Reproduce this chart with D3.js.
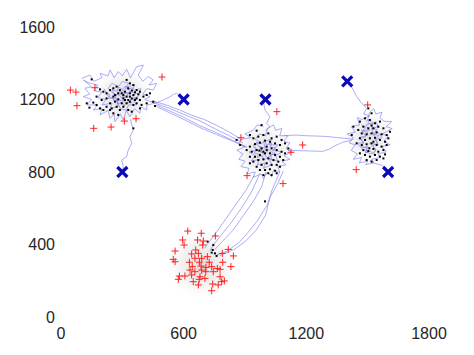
<!DOCTYPE html>
<html><head><meta charset="utf-8">
<script src="https://cdn.jsdelivr.net/npm/d3@7"></script>
<style>body{margin:0;background:#fff}svg{display:block}</style>
</head><body>
<script>
const xTicks=[0,600,1200,1800];
const yTicks=[0,400,800,1200,1600];
const starts=[[300,800],[600,1200],[1000,1200],[1400,1300],[1600,800]];
const haloCenters=[[300,1210,34],[990,915,32],[1505,995,28],[690,290,38]];
const redPlus=[[46,1252],[73,1241],[166,1265],[78,1166],[160,1041],[245,1048],[310,1081],[367,1094],[494,1324],
[1056,1133],[880,989],[1182,949],[1125,909],[910,780],[1086,736],[1500,1170],[1444,813],
[620,474],[686,462],[595,425],[668,425],[696,419],[755,447],[602,397],[558,364],[693,397],[659,370],[549,318],[558,305],[639,348],[672,351],[818,373],[843,337],[789,351],[655,324],[688,324],[716,333],[628,302],[677,302],[725,302],[791,302],[831,278],[642,278],[685,281],[709,274],[737,278],[765,268],[631,259],[655,250],[688,259],[708,250],[745,250],[778,263],[579,226],[606,226],[639,232],[680,222],[704,213],[778,222],[574,208],[647,195],[676,208],[786,195],[742,182],[769,177],[672,177],[737,145],[799,199]];
const blackDots=[[150,1311],[126,1179],[139,1155],[191,1256],[207,1243],[223,1234],[240,1252],[256,1262],[272,1271],[288,1252],[297,1234],[313,1243],[329,1262],[337,1234],[346,1249],[354,1225],[362,1240],[370,1252],[378,1229],[386,1243],[403,1216],[419,1225],[435,1234],[460,1164],[451,1188],[321,1216],[305,1206],[280,1201],[264,1188],[240,1179],[223,1160],[207,1142],[191,1151],[174,1170],[158,1183],[248,1151],[272,1160],[288,1142],[305,1160],[321,1179],[337,1188],[354,1170],[370,1179],[386,1197],[394,1170],[256,1124],[280,1115],[329,1142],[346,1133],[297,1179],[313,1197],[329,1197],[346,1206],[370,1206],[223,1206],[199,1197],[174,1216],[264,1225],[280,1234],[354,1041],[321,1308],[337,1289],[354,1280],[240,1142],[386,1151],[419,1179],[256,1216],[305,1225],[337,1216],[362,1197],
[981,1059],[957,1028],[924,1004],[941,986],[965,995],[990,1004],[1014,1013],[1030,986],[1055,995],[1079,977],[1096,958],[1071,949],[1047,958],[1022,967],[998,973],[973,962],[949,954],[924,940],[908,921],[933,912],[957,921],[981,930],[1006,940],[1030,930],[1055,921],[1079,912],[1096,903],[1071,884],[1047,894],[1022,903],[998,903],[973,894],[949,884],[924,884],[941,857],[965,866],[990,870],[1014,875],[1039,866],[1063,857],[1087,866],[1055,839],[1030,839],[1006,848],[981,839],[957,829],[973,811],[998,811],[1022,815],[1047,807],[1014,793],[990,783],[1030,783],[1055,793],[876,949],[859,977],[1112,930],[924,848],[1071,829],[1006,921],[990,912],[970,918],[998,638],
[717,416],[745,397],[742,370],[737,355],[753,351],[761,337],
[1503,1151],[1519,1124],[1487,1096],[1462,1078],[1511,1087],[1536,1069],[1560,1078],[1479,1050],[1503,1041],[1528,1041],[1552,1050],[1577,1041],[1454,1032],[1430,1050],[1471,1013],[1495,1008],[1519,1013],[1544,1019],[1568,1008],[1593,1004],[1462,986],[1487,977],[1511,986],[1536,989],[1560,977],[1585,967],[1446,958],[1471,949],[1495,953],[1519,958],[1544,949],[1568,940],[1593,949],[1479,921],[1503,916],[1528,927],[1552,912],[1577,921],[1487,894],[1511,885],[1536,894],[1560,885],[1495,866],[1519,857],[1544,866],[1577,875],[1601,986],[1422,1004],[1528,967],[1508,931],[1462,903],[1609,1022],[1585,897],[1519,1056]];
const tracks=[
[[300,800],[305,829],[297,866],[321,884],[329,921],[346,958],[337,995],[354,1032],[346,1060],[340,1090]],
[[600,1200],[585,1215],[566,1234],[550,1228],[533,1215],[500,1197],[468,1182],[440,1190]],
[[1000,1200],[990,1188],[998,1142],[1022,1105],[1006,1069],[1022,1050],[1000,1030]],
[[1400,1300],[1405,1298],[1430,1252],[1446,1216],[1471,1179],[1495,1151]],
[[1600,800],[1593,820],[1568,838],[1536,847],[1511,866]],
[[101,1317],[142,1335],[160,1300],[200,1320],[191,1344],[230,1330],[240,1363],[260,1320],[280,1354],[300,1330],[321,1366],[340,1320],[370,1381],[403,1390],[378,1335],[400,1300],[427,1326],[451,1308],[430,1280],[468,1289],[451,1252],[420,1260],[400,1230],[435,1216],[410,1200],[460,1179],[420,1170],[419,1142],[390,1160],[386,1124],[360,1150],[337,1105],[320,1140],[305,1087],[290,1120],[264,1078],[260,1120],[240,1096],[230,1140],[191,1115],[200,1150],[158,1142],[180,1170],[126,1170],[150,1200],[109,1216],[140,1230],[117,1262],[150,1270],[109,1308],[140,1290],[180,1280],[160,1250],[200,1240],[180,1210],[220,1200],[200,1170],[250,1180],[240,1150],[280,1160],[270,1200],[310,1190],[300,1230],[340,1240],[320,1270],[360,1280],[350,1250],[390,1260],[380,1220],[350,1200],[370,1170],[330,1170],[320,1140],[290,1150],[260,1230],[230,1260],[250,1290],[280,1270],[300,1300],[330,1290],[310,1250],[280,1240],[260,1200],[230,1220],[210,1260]],
[[220,1240],[240,1225],[230,1205],[255,1210],[260,1190],[280,1200],[275,1175],[300,1185],[310,1165],[320,1185],[345,1180],[340,1200],[365,1205],[350,1220],[370,1235],[345,1240],[350,1265],[325,1255],[315,1275],[300,1255],[280,1270],[275,1245],[250,1255],[260,1230],[285,1225],[295,1210],[320,1215],[330,1235],[305,1240],[290,1230]],
[[990,1050],[960,1060],[940,1030],[900,1010],[930,990],[880,980],[870,950],[900,940],[860,920],[890,900],[870,870],[900,860],[880,830],[920,820],[910,790],[950,800],[940,770],[980,790],[990,765],[1010,800],[1030,775],[1040,810],[1070,800],[1060,830],[1100,840],[1080,860],[1120,870],[1090,890],[1128,910],[1100,930],[1120,960],[1090,970],[1110,1000],[1070,1000],[1080,1040],[1050,1030],[1040,1060],[1010,1040],[1000,1000],[970,1010],[950,980],[980,960],[940,950],[960,920],[920,910],[950,890],[930,860],[970,870],[960,840],[1000,850],[990,820],[1030,840],[1020,870],[1060,860],[1050,890],[1080,910],[1040,920],[1060,950],[1020,950],[1030,980],[990,970],[1000,930],[970,940],[990,900],[1010,880],[1040,900],[1020,920]],
[[940,940],[955,925],[945,905],[965,900],[960,880],[985,890],[990,865],[1010,880],[1030,870],[1025,895],[1050,900],[1035,915],[1050,935],[1025,935],[1030,960],[1005,950],[995,975],[980,955],[955,965],[965,945],[985,930],[975,910],[1000,905],[1015,920],[1000,940]],
[[1495,1151],[1480,1120],[1510,1110],[1470,1090],[1450,1100],[1460,1060],[1420,1050],[1440,1020],[1400,1010],[1430,990],[1410,960],[1440,950],[1420,920],[1450,900],[1430,870],[1470,880],[1460,850],[1500,860],[1490,840],[1530,850],[1520,870],[1560,880],[1550,900],[1590,910],[1570,940],[1610,950],[1580,970],[1600,1000],[1570,1010],[1620,1040],[1590,1050],[1617,1078],[1580,1080],[1560,1100],[1570,1130],[1540,1120],[1530,1150],[1510,1130],[1500,1090],[1530,1070],[1490,1060],[1510,1030],[1470,1030],[1490,1000],[1460,990],[1480,960],[1450,960],[1470,930],[1500,940],[1490,910],[1520,900],[1540,920],[1510,960],[1550,950],[1540,980],[1570,990],[1550,1020],[1530,1000],[1520,1040],[1550,1050],[1540,1080]],
[[1470,1060],[1490,1045],[1475,1025],[1500,1020],[1490,995],[1465,985],[1480,965],[1470,940],[1495,935],[1490,905],[1515,915],[1530,895],[1540,925],[1525,945],[1550,960],[1535,980],[1555,1000],[1530,1010],[1545,1035],[1520,1040],[1525,1065],[1500,1070],[1510,1090],[1490,1080]],
[[455,1190],[520,1168],[580,1142],[640,1113],[700,1090],[760,1058],[820,1022],[875,985]],
[[460,1180],[530,1152],[600,1118],[680,1082],[750,1040],[820,1002],[890,960]],
[[465,1170],[530,1138],[600,1102],[680,1055],[750,1022],[830,980],[905,940]],
[[470,1160],[540,1122],[610,1085],[680,1045],[760,1007],[840,970],[910,935]],
[[1090,1000],[1150,1004],[1200,1000],[1260,998],[1300,996],[1350,990],[1400,985],[1430,980]],
[[1110,920],[1160,918],[1220,916],[1280,914],[1310,925],[1340,945],[1380,965],[1420,975]],
[[945,780],[905,700],[855,620],[805,540],[762,470],[722,410],[702,380]],
[[972,790],[932,690],[882,600],[832,520],[782,450],[742,392],[727,362]],
[[1002,800],[982,720],[942,640],[892,560],[842,480],[792,420],[752,372]],
[[1087,805],[1062,740],[1022,660],[1000,560],[955,480],[905,420],[850,375],[775,338]],
[[1070,800],[1032,700],[1010,620],[960,530],[910,460],[870,410],[810,362],[762,342]]
];

const W=474,H=355;
const x=d3.scaleLinear().domain([0,1800]).range([61,429]);
const y=d3.scaleLinear().domain([0,1600]).range([317,27]);
const svg=d3.select("body").append("svg").attr("width",W).attr("height",H);
const defs=svg.append("defs");
const g=defs.append("radialGradient").attr("id","halo");
g.append("stop").attr("offset","0%").attr("stop-color","#d4d4d4").attr("stop-opacity",0.75);
g.append("stop").attr("offset","55%").attr("stop-color","#e2e2e2").attr("stop-opacity",0.45);
g.append("stop").attr("offset","100%").attr("stop-color","#ffffff").attr("stop-opacity",0);
svg.selectAll("circle.halo").data(haloCenters).join("circle").attr("class","halo")
 .attr("cx",d=>x(d[0])).attr("cy",d=>y(d[1])).attr("r",d=>d[2]).attr("fill","url(#halo)");

const line=d3.line().x(d=>x(d[0])).y(d=>y(d[1]));
svg.selectAll("path.track").data(tracks).join("path").attr("class","track")
 .attr("d",line).attr("fill","none").attr("stroke","#7474ee").attr("stroke-opacity",0.7).attr("stroke-width",0.85).attr("stroke-linejoin","round");

svg.selectAll("rect.dot").data(blackDots).join("rect").attr("class","dot")
 .attr("x",d=>x(d[0])-1).attr("y",d=>y(d[1])-1).attr("width",2).attr("height",2).attr("fill","#000");

const plus=svg.append("g").attr("stroke","#ff2020").attr("stroke-width",1).attr("fill","none");
plus.selectAll("path").data(redPlus).join("path")
 .attr("d",d=>{const cx=x(d[0]),cy=y(d[1]);return `M${cx-3.5},${cy}H${cx+3.5}M${cx},${cy-3.5}V${cy+3.5}`;});

const cross=svg.append("g").attr("stroke","#0a0ab8").attr("stroke-width",3.2).attr("fill","none");
cross.selectAll("path").data(starts).join("path")
 .attr("d",d=>{const cx=x(d[0]),cy=y(d[1]),s=5;return `M${cx-s},${cy-s}L${cx+s},${cy+s}M${cx-s},${cy+s}L${cx+s},${cy-s}`;});

const font="'Liberation Sans', Arial, sans-serif";
svg.append("g").selectAll("text").data(xTicks).join("text")
 .attr("x",d=>x(d)).attr("y",339).attr("text-anchor","middle")
 .attr("font-family",font).attr("font-size",16).attr("fill","#262626").text(d=>d);
svg.append("g").selectAll("text").data(yTicks).join("text")
 .attr("x",55).attr("y",d=>y(d)).attr("dy","0.35em").attr("text-anchor","end")
 .attr("font-family",font).attr("font-size",16).attr("fill","#262626").text(d=>d);
</script>
</body></html>
